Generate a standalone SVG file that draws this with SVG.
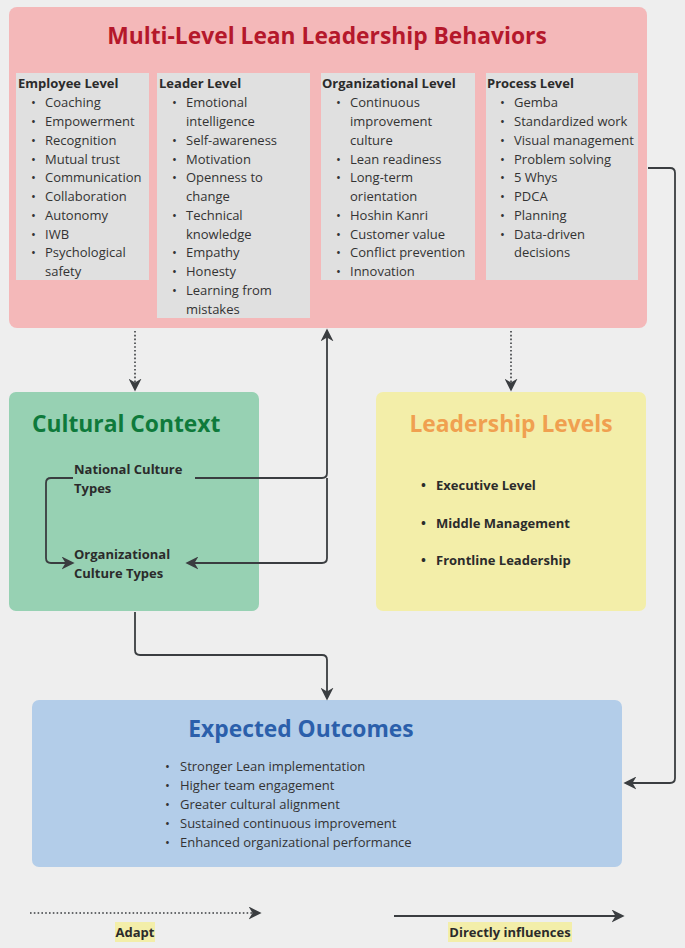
<svg xmlns="http://www.w3.org/2000/svg" width="685" height="948" viewBox="0 0 685 948">
<defs>
<style>
.t{font-family:"Open Sans","Noto Sans","Liberation Sans",sans-serif;font-size:13px;fill:#333}
.h{font-family:"Open Sans","Noto Sans","Liberation Sans",sans-serif;font-size:13px;font-weight:bold;fill:#2b2b2b}
.title{font-family:"Open Sans","Noto Sans","Liberation Sans",sans-serif;font-size:22.8px;font-weight:bold}
.col{fill:#e0e0e0}
.conn{fill:none;stroke:#3a3d40;stroke-width:1.8;stroke-linejoin:round}
.dot{fill:none;stroke:#3a3d40;stroke-width:1.6;stroke-dasharray:1.6 2.2}
</style>
<marker id="ar2" viewBox="0 0 10 10" refX="8" refY="5" markerWidth="13" markerHeight="13" markerUnits="userSpaceOnUse" orient="auto">
<path d="M0,0 L10,5 L0,10 L3,5 z" fill="#3a3d40"/>
</marker>
</defs>
<rect width="685" height="948" fill="#eeeeee"/>

<g id="behaviors">
<rect x="9" y="7" width="638" height="321" rx="8" fill="#f4b8b9"/>
<text x="327" y="44" text-anchor="middle" class="title" fill="#b5182b">Multi-Level Lean Leadership Behaviors</text>
<g id="employee">
<rect class="col" x="16" y="73" width="133" height="207"/>
<text class="h" x="18" y="88">Employee Level</text>
<g class="t">
<text x="31" y="107">•</text><text x="45" y="107">Coaching</text>
<text x="31" y="126">•</text><text x="45" y="126">Empowerment</text>
<text x="31" y="145">•</text><text x="45" y="145">Recognition</text>
<text x="31" y="164">•</text><text x="45" y="164">Mutual trust</text>
<text x="31" y="182">•</text><text x="45" y="182">Communication</text>
<text x="31" y="201">•</text><text x="45" y="201">Collaboration</text>
<text x="31" y="220">•</text><text x="45" y="220">Autonomy</text>
<text x="31" y="239">•</text><text x="45" y="239">IWB</text>
<text x="31" y="257">•</text><text x="45" y="257">Psychological</text>
<text x="45" y="276">safety</text>
</g>
</g>
<g id="leader">
<rect class="col" x="157" y="73" width="153" height="245"/>
<text class="h" x="159" y="88">Leader Level</text>
<g class="t">
<text x="172" y="107">•</text><text x="186" y="107">Emotional</text>
<text x="186" y="126">intelligence</text>
<text x="172" y="145">•</text><text x="186" y="145">Self-awareness</text>
<text x="172" y="164">•</text><text x="186" y="164">Motivation</text>
<text x="172" y="182">•</text><text x="186" y="182">Openness to</text>
<text x="186" y="201">change</text>
<text x="172" y="220">•</text><text x="186" y="220">Technical</text>
<text x="186" y="239">knowledge</text>
<text x="172" y="257">•</text><text x="186" y="257">Empathy</text>
<text x="172" y="276">•</text><text x="186" y="276">Honesty</text>
<text x="172" y="295">•</text><text x="186" y="295">Learning from</text>
<text x="186" y="314">mistakes</text>
</g>
</g>
<g id="organizational">
<rect class="col" x="321" y="73" width="154" height="207"/>
<text class="h" x="322" y="88">Organizational Level</text>
<g class="t">
<text x="336" y="107">•</text><text x="350" y="107">Continuous</text>
<text x="350" y="126">improvement</text>
<text x="350" y="145">culture</text>
<text x="336" y="164">•</text><text x="350" y="164">Lean readiness</text>
<text x="336" y="182">•</text><text x="350" y="182">Long-term</text>
<text x="350" y="201">orientation</text>
<text x="336" y="220">•</text><text x="350" y="220">Hoshin Kanri</text>
<text x="336" y="239">•</text><text x="350" y="239">Customer value</text>
<text x="336" y="257">•</text><text x="350" y="257">Conflict prevention</text>
<text x="336" y="276">•</text><text x="350" y="276">Innovation</text>
</g>
</g>
<g id="process">
<rect class="col" x="486" y="73" width="152" height="207"/>
<text class="h" x="487" y="88">Process Level</text>
<g class="t">
<text x="500" y="107">•</text><text x="514" y="107">Gemba</text>
<text x="500" y="126">•</text><text x="514" y="126">Standardized work</text>
<text x="500" y="145">•</text><text x="514" y="145">Visual management</text>
<text x="500" y="164">•</text><text x="514" y="164">Problem solving</text>
<text x="500" y="182">•</text><text x="514" y="182">5 Whys</text>
<text x="500" y="201">•</text><text x="514" y="201">PDCA</text>
<text x="500" y="220">•</text><text x="514" y="220">Planning</text>
<text x="500" y="239">•</text><text x="514" y="239">Data-driven</text>
<text x="514" y="257">decisions</text>
</g>
</g>
</g>

<g id="cultural">
<rect x="9" y="392" width="250" height="219" rx="7" fill="#97d1b3"/>
<text x="32" y="432" class="title" fill="#0e7a3b">Cultural Context</text>
<text class="h" x="74" y="474">National Culture</text>
<text class="h" x="74" y="493">Types</text>
<text class="h" x="74" y="559">Organizational</text>
<text class="h" x="74" y="578">Culture Types</text>
</g>

<g id="levels">
<rect x="376" y="392" width="270" height="219" rx="7" fill="#f3eea9"/>
<text x="511" y="432" text-anchor="middle" class="title" fill="#f0a050">Leadership Levels</text>
<g class="h">
<text x="421" y="490">•</text><text x="436" y="490">Executive Level</text>
<text x="421" y="528">•</text><text x="436" y="528">Middle Management</text>
<text x="421" y="565">•</text><text x="436" y="565">Frontline Leadership</text>
</g>
</g>

<g id="outcomes">
<rect x="32" y="700" width="590" height="167" rx="7" fill="#b3cde9"/>
<text x="301" y="737" text-anchor="middle" class="title" fill="#2b5fab">Expected Outcomes</text>
<g class="t">
<text x="165" y="771">•</text><text x="180" y="771">Stronger Lean implementation</text>
<text x="165" y="790">•</text><text x="180" y="790">Higher team engagement</text>
<text x="165" y="809">•</text><text x="180" y="809">Greater cultural alignment</text>
<text x="165" y="828">•</text><text x="180" y="828">Sustained continuous improvement</text>
<text x="165" y="847">•</text><text x="180" y="847">Enhanced organizational performance</text>
</g>
</g>

<g id="connectors">
<path class="dot" d="M135,331 V389" marker-end="url(#ar2)"/>
<path class="dot" d="M511,331 V389" marker-end="url(#ar2)"/>
<path class="conn" d="M195,478 H322 Q327,478 327,473 V331" marker-end="url(#ar2)"/>
<path class="conn" d="M327,478 V558 Q327,563 322,563 H188" marker-end="url(#ar2)"/>
<path class="conn" d="M73,478 H51 Q46,478 46,483 V558 Q46,563 51,563 H72" marker-end="url(#ar2)"/>
<path class="conn" d="M135,612 V650 Q135,655 140,655 H322 Q327,655 327,660 V698" marker-end="url(#ar2)"/>
<path class="conn" d="M648,168 H670 Q675,168 675,173 V778 Q675,783 670,783 H626" marker-end="url(#ar2)"/>
</g>

<g id="legend">
<path class="dot" d="M30,913 H259" marker-end="url(#ar2)"/>
<path class="conn" d="M394,916 H622" marker-end="url(#ar2)"/>
<rect x="115" y="922" width="40" height="20" fill="#f3eea9"/>
<text class="h" x="135" y="937" text-anchor="middle">Adapt</text>
<rect x="448" y="922" width="124" height="20" fill="#f3eea9"/>
<text class="h" x="510" y="937" text-anchor="middle">Directly influences</text>
</g>
</svg>
